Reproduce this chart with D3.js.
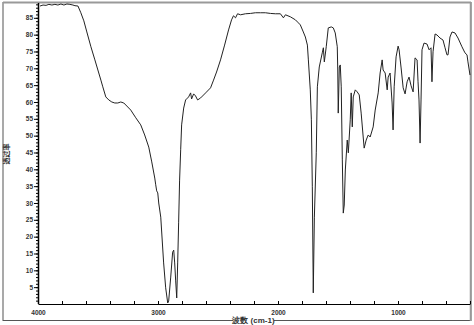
<!DOCTYPE html>
<html>
<head>
<meta charset="utf-8">
<script src="https://cdn.jsdelivr.net/npm/d3@7"></script>
<style>
  body { margin: 0; background: #fff; }
  #ir text { font-family: "Liberation Sans", Arial, sans-serif; }
</style>
</head>
<body>
<div id="ir"></div>
<script>
// wavenumber (cm-1) and transmittance (%)
var wavenumber = [3983, 3958, 3933, 3909, 3884, 3859, 3834, 3809, 3784, 3759, 3734, 3709, 3692, 3667, 3643, 3618,
    3593, 3559, 3526, 3501, 3476, 3460, 3435, 3410, 3385, 3360, 3335, 3310, 3285, 3260, 3227, 3185, 3144, 3111,
    3077, 3052, 3027, 3019, 3011, 3002, 2994, 2977, 2953, 2936, 2919, 2911, 2894, 2878, 2869, 2861, 2853, 2844,
    2836, 2828, 2820, 2811, 2803, 2786, 2770, 2745, 2728, 2720, 2703, 2687, 2670, 2645, 2603, 2562, 2537, 2512,
    2479, 2445, 2412, 2387, 2371, 2354, 2337, 2312, 2271, 2229, 2188, 2146, 2105, 2063, 2022, 1980, 1955, 1938,
    1897, 1855, 1830, 1814, 1789, 1772, 1755, 1747, 1731, 1722, 1714, 1706, 1697, 1681, 1672, 1656, 1631, 1622,
    1614, 1598, 1581, 1556, 1539, 1523, 1506, 1502, 1498, 1489, 1481, 1473, 1464, 1456, 1448, 1439, 1423, 1414,
    1398, 1390, 1381, 1373, 1356, 1340, 1323, 1307, 1290, 1282, 1265, 1248, 1232, 1207, 1190, 1165, 1149, 1132,
    1124, 1107, 1090, 1082, 1066, 1049, 1041, 1032, 1016, 999, 991, 974, 957, 941, 924, 908, 891, 874, 858, 841,
    833, 825, 816, 808, 800, 783, 758, 741, 725, 717, 708, 691, 675, 650, 625, 608, 592, 583, 567, 550, 525, 500,
    467, 442, 425, 417, 400];
var transmittance = [88.5, 88.8, 88.7, 89.0, 88.8, 89.0, 88.8, 89.1, 88.8, 89.1, 89.0, 88.8, 88.6, 88.5, 86.5, 84.1,
    80.8, 76.4, 72.5, 69.5, 66.5, 64.5, 61.5, 60.6, 60.0, 59.7, 59.7, 60.0, 59.7, 58.8, 57.6, 55.3, 53.2, 50.2,
    46.6, 42.2, 37.4, 35.4, 33.6, 33.0, 30.0, 25.8, 12.2, 4.8, 0.3, 0.9, 8.0, 15.4, 16.0, 12.2, 7.1, 1.8,
    12.2, 24.1, 36.8, 45.8, 53.2, 58.2, 60.6, 61.5, 62.7, 60.9, 62.4, 61.8, 60.6, 61.2, 62.7, 64.2, 66.5, 68.9,
    72.5, 76.9, 81.4, 84.4, 85.6, 85.0, 86.2, 85.9, 86.2, 86.3, 86.5, 86.5, 86.5, 86.3, 86.2, 86.2, 85.0, 85.9,
    85.3, 84.4, 83.5, 82.9, 80.8, 79.3, 76.9, 72.5, 63.6, 54.7, 34.8, 3.3, 25.8, 44.9, 64.5, 70.4, 74.6, 76.1,
    71.9, 76.4, 82.0, 82.3, 82.0, 80.5, 76.4, 69.5, 56.7, 70.4, 71.0, 64.5, 42.8, 27.0, 29.4, 39.8, 48.7, 44.9,
    54.7, 62.7, 52.6, 61.5, 63.6, 63.0, 62.1, 56.7, 49.6, 46.3, 48.7, 50.2, 49.6, 52.6, 57.6, 62.7, 68.6, 72.5,
    69.5, 68.6, 63.6, 67.4, 68.6, 59.7, 51.7, 64.5, 73.4, 76.6, 75.5, 70.1, 64.2, 62.4, 66.0, 67.4, 64.8, 63.0, 73.1, 72.5,
    66.0, 60.6, 47.8, 60.6, 75.5, 77.5, 77.2, 75.5, 76.1, 66.0, 74.9, 80.2, 79.9, 79.0, 78.4, 76.1, 74.0, 74.0, 79.3, 80.8, 80.5, 79.0,
    76.4, 74.6, 74.0, 71.9, 68.0];
var yMajorTicks = [5, 10, 15, 20, 25, 30, 35, 40, 45, 50, 55, 60, 65, 70, 75, 80, 85];
var xLabelTicks = [4000, 3000, 2000, 1000];

(function () {
    var width = 474, height = 325;
    var pLeft = 38, pRight = 470, pTop = 3, pBottom = 304;

    var svg = d3.select("#ir")
        .append("svg")
        .attr("width", width)
        .attr("height", height);

    var x = d3.scaleLinear().domain([4000, 400]).range([pLeft, pRight]);
    var y = d3.scaleLinear().domain([0, 89.4]).range([pBottom, pTop]);

    // outer frame
    svg.append("rect")
        .attr("x", 3).attr("y", 2.5)
        .attr("width", 468).attr("height", 318)
        .attr("fill", "none")
        .attr("stroke", "#555")
        .attr("stroke-width", 1);
    svg.append("line")
        .attr("x1", 3).attr("x2", 471).attr("y1", 2.5).attr("y2", 2.5)
        .attr("stroke", "#999").attr("stroke-width", 2);
    svg.append("line")
        .attr("x1", 470.5).attr("x2", 470.5).attr("y1", 2).attr("y2", 321)
        .attr("stroke", "#999").attr("stroke-width", 1.5);

    // y minor ticks
    svg.append("g")
        .attr("transform", "translate(" + pLeft + ",0)")
        .call(d3.axisLeft(y).tickValues(d3.range(1, 90)).tickSize(2).tickFormat(""))
        .call(g => g.select(".domain").remove());

    // y major ticks
    svg.append("g")
        .attr("transform", "translate(" + pLeft + ",0)")
        .call(d3.axisLeft(y).tickValues(yMajorTicks).tickSize(4).tickPadding(1))
        .call(g => g.select(".domain").attr("stroke-width", 1.5).attr("d", "M0.5," + pTop + "V" + pBottom))
        .selectAll("text")
        .attr("font-size", "6.5px")
        .attr("font-weight", "bold")
        .attr("fill", "#333");

    // x ticks every 200, pointing up
    svg.append("g")
        .attr("transform", "translate(0," + pBottom + ")")
        .call(d3.axisBottom(x).tickValues(d3.range(4000, 399, -200)).tickSizeInner(-3).tickSizeOuter(0)
            .tickPadding(6)
            .tickFormat(d => xLabelTicks.indexOf(d) >= 0 ? d : ""))
        .call(g => g.select(".domain").attr("stroke-width", 1.2))
        .selectAll("text")
        .attr("font-size", "6.5px")
        .attr("font-weight", "bold")
        .attr("fill", "#333");

    // spectrum
    var pts = wavenumber.map((w, i) => [w, transmittance[i]]);
    svg.append("path")
        .datum(pts)
        .attr("fill", "none")
        .attr("stroke", "#222")
        .attr("stroke-width", 1)
        .attr("stroke-linejoin", "round")
        .attr("d", d3.line().x(d => x(d[0])).y(d => y(d[1])));

    // x title sitting on the frame
    svg.append("rect")
        .attr("x", 233).attr("y", 315)
        .attr("width", 41).attr("height", 10)
        .attr("fill", "#fff");
    svg.append("text")
        .attr("x", 253.5).attr("y", 323)
        .attr("text-anchor", "middle")
        .attr("font-size", "8px")
        .attr("font-weight", "bold")
        .attr("fill", "#333")
        .text("波数 (cm-1)");

    // y title
    svg.append("text")
        .attr("transform", "translate(9,154) rotate(-90)")
        .attr("text-anchor", "middle")
        .attr("font-size", "7px")
        .attr("font-weight", "bold")
        .attr("fill", "#333")
        .style("font-family", "'Noto Sans CJK SC', sans-serif")
        .text("透过率");
})();
</script>
</body>
</html>
